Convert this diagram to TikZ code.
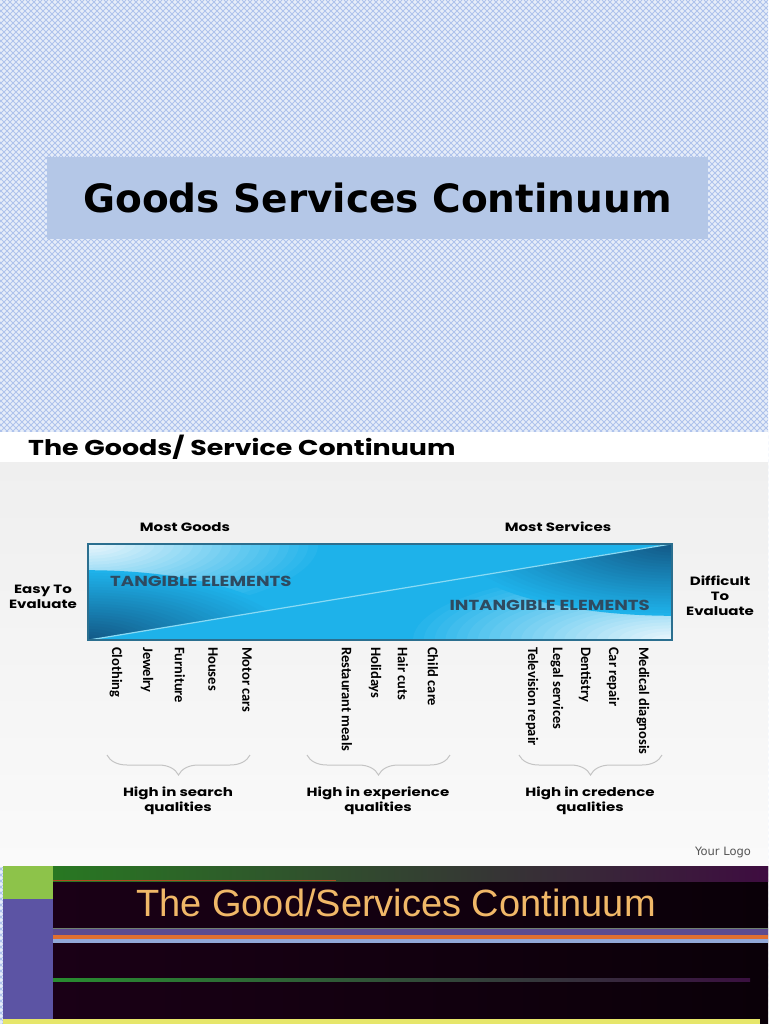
\documentclass[tikz,border=0pt]{standalone}
\usepackage{fontspec}
\setmainfont{DejaVu Sans}
\newfontfamily\popf{Poppins}[FakeStretch=1.25]
\newfontfamily\carf{Carlito}
\newfontfamily\arf{Liberation Sans}
\newfontfamily\dejf{DejaVu Sans}
\usetikzlibrary{decorations.pathreplacing}
\definecolor{hatchbase}{HTML}{E6EDF9}
\definecolor{hatchline}{HTML}{AFC3EC}
\definecolor{titlebox}{HTML}{B4C7E7}
\definecolor{graytop}{HTML}{EFEFEF}
\definecolor{graybot}{HTML}{FAFAFA}
\definecolor{barborder}{HTML}{2B6F8F}
\definecolor{diagline}{HTML}{8ADAF4}
\definecolor{elemtext}{HTML}{2E4A60}
\definecolor{bracegray}{HTML}{C4C4C4}
\definecolor{logogray}{HTML}{555555}
\definecolor{sqgreen}{HTML}{8DC34A}
\definecolor{sqpurple}{HTML}{5C54A4}
\definecolor{goldtext}{HTML}{F0B868}
\definecolor{stripegray}{HTML}{708070}
\definecolor{stripepurple}{HTML}{5C4C90}
\definecolor{stripeorange}{HTML}{E07030}
\definecolor{stripeblue}{HTML}{92A8D8}
\definecolor{yellowbar}{HTML}{E6E66A}
\definecolor{cyanbase}{HTML}{1EB2EA}
\definecolor{glowlight}{HTML}{E8F6FC}
\definecolor{glowdark}{HTML}{135A88}
\definecolor{dkL}{HTML}{1A0016}
\definecolor{dkM}{HTML}{26002C}
\definecolor{dkR}{HTML}{0A0008}
\definecolor{tbL}{HTML}{287822}
\definecolor{tbM}{HTML}{3A3A3A}
\definecolor{tbR}{HTML}{3E0C40}
\definecolor{orangeline}{HTML}{B04A20}
\definecolor{glG}{HTML}{288C30}
\definecolor{glB}{HTML}{285090}
\definecolor{glP}{HTML}{3A1040}
\tikzset{
  heading/.style={font=\popf\bfseries\fontsize{21.5}{25}\selectfont, inner sep=0},
  gotext/.style={font=\popf\bfseries\fontsize{12}{15}\selectfont, align=center, inner sep=0},
  elemlabel/.style={font=\popf\bfseries\fontsize{14.5}{17}\selectfont, text=elemtext, inner sep=0},
  itemlabel/.style={font=\carf\bfseries\fontsize{14.5}{16}\selectfont, rotate=-90, anchor=west, inner sep=0},
  qualbrace/.style={draw=bracegray, line width=1, decorate, decoration={brace, amplitude=20pt}},
  quallabel/.style={font=\popf\bfseries\fontsize{12}{15}\selectfont, align=center, inner sep=0},
}
\begin{document}
\begin{tikzpicture}[x=1pt,y=-1pt]
\useasboundingbox (0,0) rectangle (768,1024);
% ---------- top slide: hatched background ----------
\fill[hatchbase] (0,0) rectangle (768,1024);
\begin{scope}
\clip (0,0) rectangle (768,1024);
\foreach \i in {-1024,-1018,...,768} {
  \draw[hatchline, line width=0.8] (\i,0) -- ++(1024,1024);
  \draw[hatchline, line width=0.8] (\i+1024,0) -- ++(-1024,1024);
}
\end{scope}
\node[fill=titlebox, minimum width=661pt, minimum height=82pt, inner sep=0,
      font=\dejf\bfseries\fontsize{39}{47}\selectfont] (title) at (377.5,198) {Goods Services Continuum};
% ---------- middle picture ----------
\fill[white] (0,432) rectangle (768,462);
\shade[top color=graytop, bottom color=graybot] (0,462) rectangle (768,866);
\node[heading, anchor=west] (h2) at (28,447) {The Goods/ Service Continuum};
% continuum bar
\node[minimum width=584pt, minimum height=96pt, inner sep=0] (bar) at (380,592) {};
\begin{scope}
\clip (bar.north west) -- (bar.north east) -- (bar.south west) -- cycle;
\fill[cyanbase] (bar.north west) rectangle (bar.south east);
\foreach \k in {0,...,24} {
  \pgfmathsetmacro\rr{1-\k/25}
  \pgfmathsetmacro\pp{100*\k/24}
  \fill[glowlight!\pp!cyanbase] (bar.north west) ellipse ({240*\rr} and {75*\rr});
}
\foreach \k in {0,...,24} {
  \pgfmathsetmacro\rr{1-\k/25}
  \pgfmathsetmacro\pp{100*\k/24}
  \fill[glowdark!\pp!cyanbase] (bar.south west) ellipse ({210*\rr} and {70*\rr});
}
\end{scope}
\begin{scope}
\clip (bar.south west) -- (bar.north east) -- (bar.south east) -- cycle;
\fill[cyanbase] (bar.north west) rectangle (bar.south east);
\foreach \k in {0,...,24} {
  \pgfmathsetmacro\rr{1-\k/25}
  \pgfmathsetmacro\pp{100*\k/24}
  \fill[glowlight!\pp!cyanbase] (bar.south east) ellipse ({270*\rr} and {75*\rr});
}
\foreach \k in {0,...,24} {
  \pgfmathsetmacro\rr{1-\k/25}
  \pgfmathsetmacro\pp{100*\k/24}
  \fill[glowdark!\pp!cyanbase] (bar.north east) ellipse ({220*\rr} and {72*\rr});
}
\end{scope}
\draw[diagline, line width=1.2] (bar.south west) -- (bar.north east);
\draw[barborder, line width=1.5] (bar.north west) rectangle (bar.south east);
\node[elemlabel, anchor=west] (tang) at (110,581) {TANGIBLE ELEMENTS};
\node[elemlabel, anchor=east] (intang) at (650,605) {INTANGIBLE ELEMENTS};
\node[gotext] (mgoods) at (185,527) {Most Goods};
\node[gotext] (mserv) at (558,527) {Most Services};
\node[gotext] (easy) at (43,597) {Easy To\\Evaluate};
\node[gotext] (diff) at (720,596) {Difficult\\To\\Evaluate};
% items
\node[itemlabel] (i1) at (116,647) {Clothing};
\node[itemlabel] (i2) at (147,647) {Jewelry};
\node[itemlabel] (i3) at (180,647) {Furniture};
\node[itemlabel] (i4) at (213,647) {Houses};
\node[itemlabel] (i5) at (247,647) {Motor cars};
\node[itemlabel] (i6) at (347,647) {Restaurant meals};
\node[itemlabel] (i7) at (375,647) {Holidays};
\node[itemlabel] (i8) at (403,647) {Hair cuts};
\node[itemlabel] (i9) at (433,647) {Child care};
\node[itemlabel] (i10) at (532,647) {Television repair};
\node[itemlabel] (i11) at (557,647) {Legal services};
\node[itemlabel] (i12) at (585,647) {Dentistry};
\node[itemlabel] (i13) at (613,647) {Car repair};
\node[itemlabel] (i14) at (643,647) {Medical diagnosis};
% braces
\coordinate (b1l) at (107,755); \coordinate (b1r) at (250,755);
\coordinate (b2l) at (307,755); \coordinate (b2r) at (450,755);
\coordinate (b3l) at (519,755); \coordinate (b3r) at (662,755);
\draw[qualbrace] (b1r) -- (b1l);
\draw[qualbrace] (b2r) -- (b2l);
\draw[qualbrace] (b3r) -- (b3l);
\node[quallabel] (q1) at (178,801) {High in search\\qualities};
\node[quallabel] (q2) at (378,801) {High in experience\\qualities};
\node[quallabel] (q3) at (590,801) {High in credence\\qualities};
\node[font=\dejf\fontsize{11.5}{14}\selectfont, text=logogray, inner sep=0] (logo) at (723,852) {Your Logo};
% ---------- bottom picture ----------
\shade[left color=dkL, middle color=dkM, right color=dkR] (53,866) rectangle (768,1024);
\fill[sqgreen] (3,866) rectangle (53,899);
\fill[sqpurple] (3,899) rectangle (53,1024);
\shade[left color=tbL, middle color=tbM, right color=tbR] (53,866) rectangle (768,881);
\draw[orangeline, line width=1.5] (53,880.5) -- (336,880.5);
\node[font=\arf\fontsize{38}{44}\selectfont, text=goldtext, inner sep=0] (h3) at (396,903) {The Good/Services Continuum};
\fill[stripegray] (53,927.5) rectangle (768,929);
\fill[stripepurple] (53,929) rectangle (768,934.5);
\fill[stripeorange] (53,934.5) rectangle (768,938.5);
\fill[stripeblue] (53,938.5) rectangle (768,942.5);
\shade[left color=glG, middle color=glB, right color=glP] (53,978) rectangle (750,981);
\fill[yellowbar] (3,1019) rectangle (760,1024);
\end{tikzpicture}
\end{document}
